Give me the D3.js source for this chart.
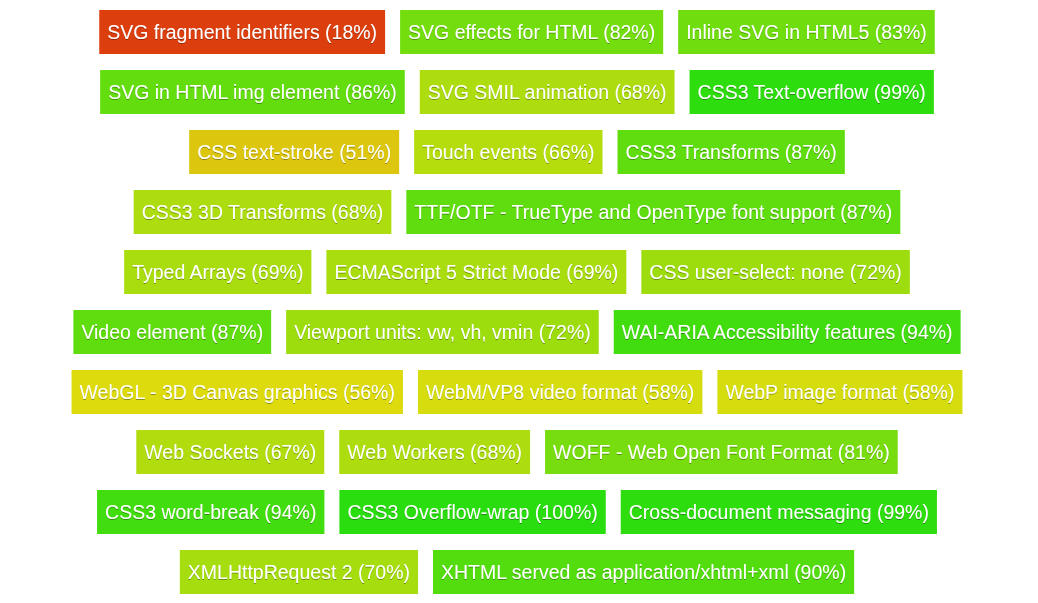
<!DOCTYPE html>
<html><head><meta charset="utf-8">
<script src="https://cdn.jsdelivr.net/npm/d3@7"></script>
<style>body{margin:0;background:#fff;}</style>
</head><body>
<script>
var labels = ["SVG fragment identifiers","SVG effects for HTML","Inline SVG in HTML5",
  "SVG in HTML img element","SVG SMIL animation","CSS3 Text-overflow",
  "CSS text-stroke","Touch events","CSS3 Transforms",
  "CSS3 3D Transforms","TTF/OTF - TrueType and OpenType font support",
  "Typed Arrays","ECMAScript 5 Strict Mode","CSS user-select: none",
  "Video element","Viewport units: vw, vh, vmin","WAI-ARIA Accessibility features",
  "WebGL - 3D Canvas graphics","WebM/VP8 video format","WebP image format",
  "Web Sockets","Web Workers","WOFF - Web Open Font Format",
  "CSS3 word-break","CSS3 Overflow-wrap","Cross-document messaging",
  "XMLHttpRequest 2","XHTML served as application/xhtml+xml"];
var values = [18,82,83, 86,68,99, 51,66,87, 68,87, 69,69,72, 87,72,94, 56,58,58, 67,68,81, 94,100,99, 70,90];
var rowCounts = [3,3,3,2,3,3,3,3,3,2];

var W = 1038, H = 603, gap = 15, pad = 8, boxH = 44, pitch = 60, topY = 10;
var hue = d3.scaleLinear().domain([18,100]).range([14,112]);
var svg = d3.select("body").append("svg").attr("width", W).attr("height", H);
var defs = svg.append("defs");
defs.append("filter").attr("id","sh").append("feDropShadow")
  .attr("dx",0).attr("dy",1).attr("stdDeviation",0.6).attr("flood-color","#000").attr("flood-opacity",0.35);

var idx = 0;
rowCounts.forEach(function (n, r) {
  var items = d3.range(idx, idx + n);
  idx += n;
  var g = svg.append("g");
  var widths = [];
  var texts = items.map(function (i) {
    var t = g.append("text").attr("font-family","'Liberation Sans', Arial, sans-serif")
      .attr("font-size", 19.5).attr("fill","#fff").attr("filter","url(#sh)")
      .text(labels[i] + " (" + values[i] + "%)");
    widths.push(t.node().getComputedTextLength() + 2 * pad);
    return t;
  });
  var total = d3.sum(widths) + gap * (n - 1);
  var x = (W - total) / 2 - 2, y = topY + r * pitch;
  items.forEach(function (i, k) {
    g.insert("rect", "text").attr("x", x).attr("y", y).attr("width", widths[k]).attr("height", boxH)
      .attr("fill", d3.hsl(hue(values[i]), 0.88, 0.46));
    texts[k].attr("x", x + pad).attr("y", y + boxH / 2 + 7);
    x += widths[k] + gap;
  });
});
</script>
</body></html>
